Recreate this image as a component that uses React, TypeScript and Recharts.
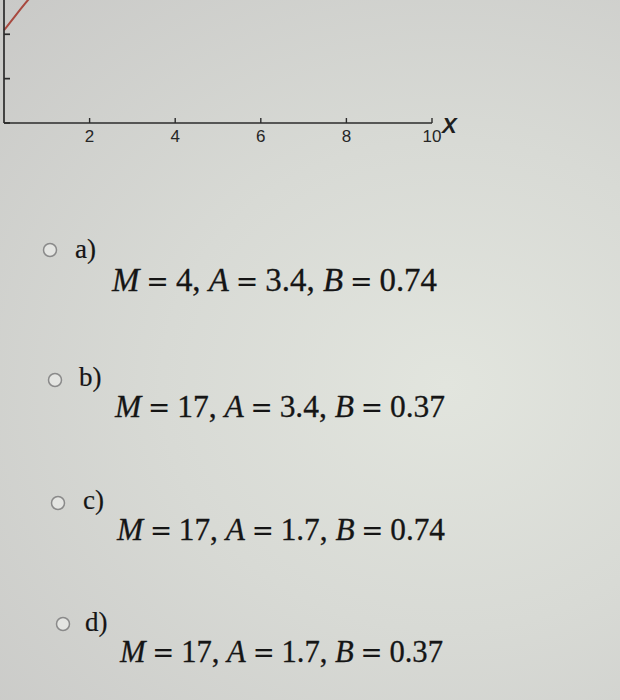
import React from 'react';
import { LineChart, Line, XAxis, YAxis } from 'recharts';

// curve (only the start is visible, the rest runs off the top)
const curveX = [0, 0.25, 0.5, 0.75, 1];
const curveY = [4.18, 4.8, 5.4, 5.98, 6.55];

const xTicks = [2, 4, 6, 8, 10];
const yTicks = [0, 2, 4];

const optionLabels = ['a)', 'b)', 'c)', 'd)'];
const mValues = ['4', '17', '17', '17'];
const aValues = ['3.4', '3.4', '1.7', '1.7'];
const bValues = ['0.74', '0.37', '0.74', '0.37'];

const data = curveX.map((x, i) => ({ x, y: curveY[i] }));

// where each answer sits in the photo
const layout = [
  { cx: 50, cy: 250, lx: 75, ly: 258, fx: 112, fy: 291, fw: 325, fs: 33 },
  { cx: 55, cy: 380, lx: 79, ly: 386, fx: 115, fy: 417, fw: 330, fs: 32 },
  { cx: 58, cy: 503, lx: 83, ly: 509, fx: 117, fy: 540, fw: 328, fs: 32 },
  { cx: 63, cy: 624, lx: 85, ly: 631, fx: 120, fy: 662, fw: 323, fs: 31.5 },
];

const serif = '"Liberation Serif", "Times New Roman", serif';
const sans = '"Liberation Sans", Arial, sans-serif';
const ink = '#151515';
const gap = 7;

const Formula = ({ i }: { i: number }) => {
  const p = layout[i];
  const eq = (
    <tspan dx={gap} fontFamily='"DejaVu Serif", serif' fontSize={27} strokeWidth={0}>
      =
    </tspan>
  );
  return (
    <text
      x={p.fx}
      y={p.fy}
      fontFamily={serif}
      fontSize={p.fs}
      fill={ink}
      stroke={ink}
      strokeWidth={0.3}
      textLength={p.fw}
      lengthAdjust="spacingAndGlyphs"
    >
      <tspan fontStyle="italic">M</tspan>
      {eq}
      <tspan dx={gap}>{`${mValues[i]}, `}</tspan>
      <tspan fontStyle="italic">A</tspan>
      {eq}
      <tspan dx={gap}>{`${aValues[i]}, `}</tspan>
      <tspan fontStyle="italic">B</tspan>
      {eq}
      <tspan dx={gap}>{bValues[i]}</tspan>
    </text>
  );
};

export default function App() {
  return (
    <div
      style={{
        position: 'absolute',
        left: 0,
        top: 0,
        width: 620,
        height: 700,
        overflow: 'hidden',
        background: 'radial-gradient(ellipse at 72% 55%, #e2e5de 0%, #d8dad5 45%, #c9c9c7 100%)',
      }}
    >
      <div style={{ position: 'absolute', left: 0, top: 0 }}>
        <LineChart width={470} height={161} data={data} margin={{ top: 0, right: 38, left: 0, bottom: 0 }}>
          <XAxis
            dataKey="x"
            type="number"
            domain={[0, 10]}
            ticks={xTicks}
            height={38}
            tickSize={-5}
            tickMargin={12}
            axisLine={{ stroke: '#2b2b2b', strokeWidth: 1.7 }}
            tickLine={{ stroke: '#2b2b2b', strokeWidth: 1.4 }}
            tick={{ fill: '#262626', fontSize: 17, fontFamily: sans }}
          />
          <YAxis
            type="number"
            domain={[0, 5.545]}
            allowDataOverflow
            ticks={yTicks}
            width={4}
            tickSize={-6}
            tick={() => <g />}
            axisLine={{ stroke: '#2b2b2b', strokeWidth: 1.7 }}
            tickLine={{ stroke: '#2b2b2b', strokeWidth: 1.7 }}
          />
          <Line
            dataKey="y"
            type="monotone"
            stroke="#a8493f"
            strokeWidth={2}
            dot={false}
            isAnimationActive={false}
          />
        </LineChart>
      </div>
      <svg width={620} height={700} style={{ position: 'absolute', left: 0, top: 0 }}>
        <text x={442} y={133} fontFamily={sans} fontSize={22} fontWeight="bold" fontStyle="italic" fill="#1e1e1e">
          X
        </text>
        {optionLabels.map((lab, i) => (
          <g key={lab}>
            <circle cx={layout[i].cx} cy={layout[i].cy} r={6.5} fill="#e4e5e2" stroke="#8a8a8a" strokeWidth={1.5} />
            <text x={layout[i].lx} y={layout[i].ly} fontFamily={serif} fontSize={27} fill={ink} stroke={ink} strokeWidth={0.2}>
              {lab}
            </text>
            <Formula i={i} />
          </g>
        ))}
      </svg>
    </div>
  );
}
